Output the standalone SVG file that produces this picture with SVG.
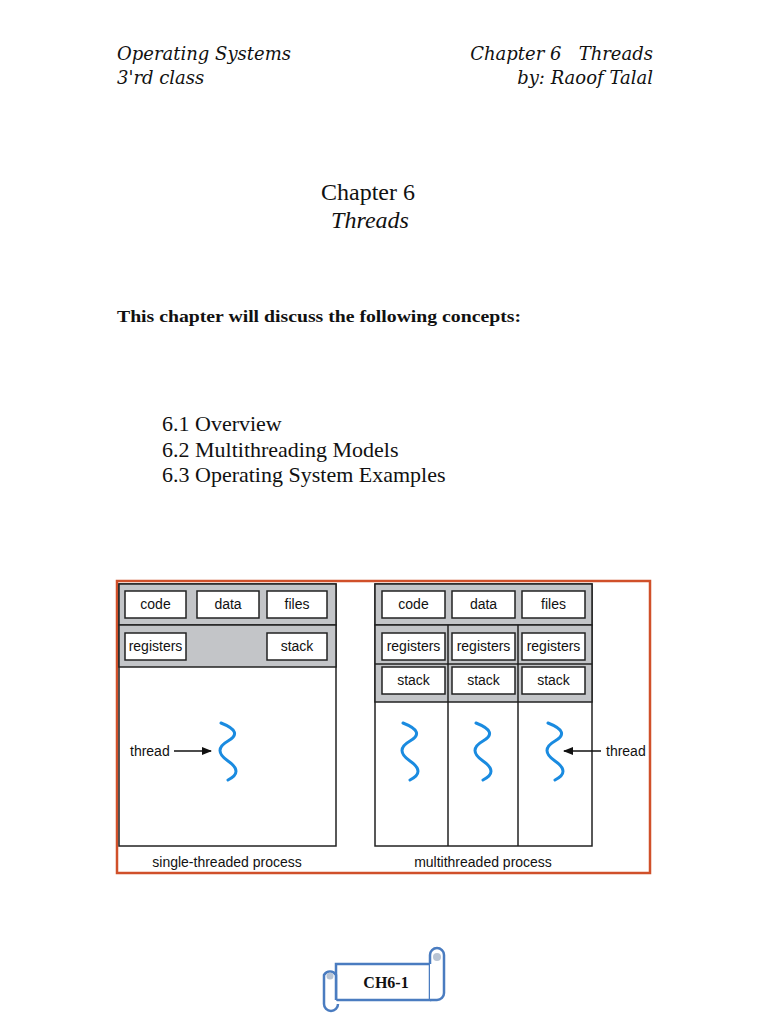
<svg xmlns="http://www.w3.org/2000/svg" width="768" height="1024" viewBox="0 0 768 1024">
<defs>
<style>
.hd{font-family:"DejaVu Serif","Liberation Serif",serif;font-style:italic;font-size:18px;fill:#111}
.tm{font-family:"Liberation Serif",serif;fill:#111}
.sf{font-family:"Liberation Sans",Arial,sans-serif;font-size:14px;fill:#111}
.bx{fill:#fff;stroke:#222;stroke-width:1.5}
.gr{fill:#c3c5c8;stroke:#222;stroke-width:1.5}
.ln{fill:none;stroke:#222;stroke-width:1.5}
.sq{fill:none;stroke:#1a8be0;stroke-width:3;stroke-linecap:round}
</style>
<marker id="ah" viewBox="0 0 10 10" refX="9" refY="5" markerWidth="7" markerHeight="7" orient="auto"><path d="M0,1 L10,5 L0,9 z" fill="#111"/></marker>
<path id="wv" d="M-7,0 Q16,9 0,18 T0,38 T0,57"/>
</defs>
<rect width="768" height="1024" fill="#fff"/>
<g id="header">
<text class="hd" x="117" y="60">Operating Systems</text>
<text class="hd" x="117" y="84">3'rd class</text>
<text class="hd" x="653" y="60" text-anchor="end" xml:space="preserve">Chapter 6   Threads</text>
<text class="hd" x="653" y="84" text-anchor="end">by: Raoof Talal</text>
</g>
<g id="title">
<text class="tm" x="368" y="200" font-size="24" text-anchor="middle">Chapter 6</text>
<text class="tm" x="370" y="228" font-size="24" font-style="italic" text-anchor="middle">Threads</text>
<text class="tm" x="117" y="322" font-size="17" font-weight="bold" textLength="404" lengthAdjust="spacingAndGlyphs">This chapter will discuss the following concepts:</text>
<text class="tm" x="162" y="431" font-size="22">6.1 Overview</text>
<text class="tm" x="162" y="457" font-size="22">6.2 Multithreading Models</text>
<text class="tm" x="162" y="482" font-size="22">6.3 Operating System Examples</text>
</g>
<g id="figure">
<rect x="117" y="581" width="533" height="292" fill="#fff" stroke="#d0502a" stroke-width="2.5"/>
<g id="single">
<rect class="bx" x="119" y="584" width="217" height="262"/>
<rect class="gr" x="119" y="584" width="217" height="41"/>
<rect class="gr" x="119" y="625" width="217" height="42"/>
<rect class="bx" x="125" y="591" width="61" height="27"/><text class="sf" x="155.5" y="609" text-anchor="middle">code</text>
<rect class="bx" x="197" y="591" width="62" height="27"/><text class="sf" x="228" y="609" text-anchor="middle">data</text>
<rect class="bx" x="267" y="591" width="60" height="27"/><text class="sf" x="297" y="609" text-anchor="middle">files</text>
<rect class="bx" x="125" y="633" width="61" height="27"/><text class="sf" x="155.5" y="651" text-anchor="middle">registers</text>
<rect class="bx" x="267" y="633" width="60" height="27"/><text class="sf" x="297" y="651" text-anchor="middle">stack</text>
<use href="#wv" x="228" y="723" class="sq"/>
<text class="sf" x="130" y="756">thread</text>
</g>
<g id="multi">
<rect class="bx" x="375" y="584" width="217" height="262"/>
<rect class="gr" x="375" y="584" width="217" height="41"/>
<rect class="gr" x="375" y="625" width="217" height="77"/>
<line class="ln" x1="448" y1="625" x2="448" y2="846"/>
<line class="ln" x1="518" y1="625" x2="518" y2="846"/>
<line class="ln" x1="375" y1="664" x2="592" y2="664"/>
<rect class="bx" x="382" y="591" width="63" height="27"/><text class="sf" x="413.5" y="609" text-anchor="middle">code</text>
<rect class="bx" x="452" y="591" width="63" height="27"/><text class="sf" x="483.5" y="609" text-anchor="middle">data</text>
<rect class="bx" x="522" y="591" width="63" height="27"/><text class="sf" x="553.5" y="609" text-anchor="middle">files</text>
<rect class="bx" x="382" y="633" width="63" height="27"/><text class="sf" x="413.5" y="651" text-anchor="middle">registers</text>
<rect class="bx" x="452" y="633" width="63" height="27"/><text class="sf" x="483.5" y="651" text-anchor="middle">registers</text>
<rect class="bx" x="522" y="633" width="63" height="27"/><text class="sf" x="553.5" y="651" text-anchor="middle">registers</text>
<rect class="bx" x="382" y="667" width="63" height="27"/><text class="sf" x="413.5" y="685" text-anchor="middle">stack</text>
<rect class="bx" x="452" y="667" width="63" height="27"/><text class="sf" x="483.5" y="685" text-anchor="middle">stack</text>
<rect class="bx" x="522" y="667" width="63" height="27"/><text class="sf" x="553.5" y="685" text-anchor="middle">stack</text>
<use href="#wv" x="410" y="723" class="sq"/>
<use href="#wv" x="483" y="723" class="sq"/>
<use href="#wv" x="555" y="723" class="sq"/>
<text class="sf" x="606" y="756">thread</text>
</g>
<g id="connectors">
<line x1="174" y1="751" x2="211" y2="751" stroke="#111" stroke-width="1.5" marker-end="url(#ah)"/>
<line x1="601" y1="751" x2="564" y2="751" stroke="#111" stroke-width="1.5" marker-end="url(#ah)"/>
</g>
<text class="sf" x="227" y="867" text-anchor="middle">single-threaded process</text>
<text class="sf" x="483" y="867" text-anchor="middle">multithreaded process</text>
</g>
<g id="scroll" fill="#fff" stroke="#4a7cc0" stroke-width="2.5">
<path d="M336,964 H430 V1000 H336 Z"/>
<path d="M430,964 V955 a7,7 0 0 1 14,0 V993 a7,7 0 0 1 -7,7 H430"/>
<path d="M336,1000 V975 a7,7 0 0 0 -12,0 V1004 a7,7 0 0 0 14,0"/>
<circle cx="437" cy="957" r="4" fill="#b8c4d4" stroke="none"/>
<circle cx="330" cy="976" r="3.5" fill="#b8c4d4" stroke="none"/>
<text x="386" y="988" text-anchor="middle" font-family="Liberation Serif,serif" font-weight="bold" font-size="16" fill="#111" stroke="none">CH6-1</text>
</g>
</svg>
